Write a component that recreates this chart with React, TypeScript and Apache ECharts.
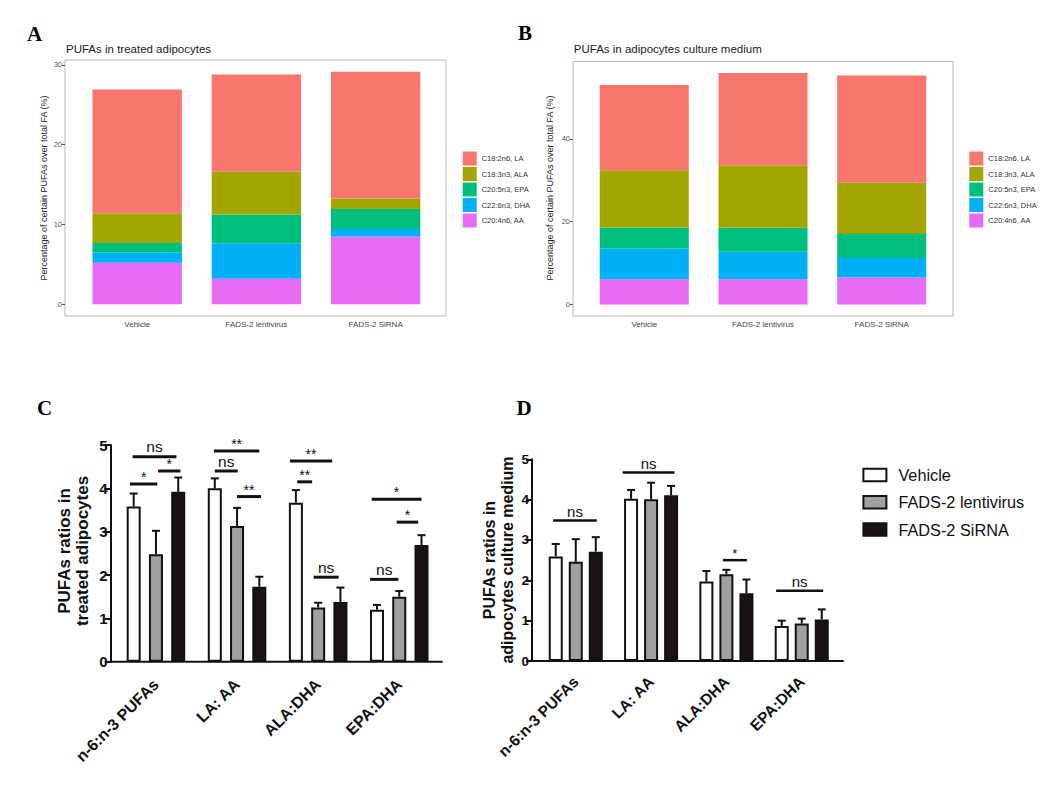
import { useEffect, useRef } from "react";
import * as echarts from "echarts";

// ---------- Panels A & B: stacked PUFA composition (% of total FA) ----------
const groupLabels = ["Vehicle", "FADS-2 lentivirus", "FADS-2 SiRNA"];
const faLegend = ["C18:2n6, LA", "C18:3n3, ALA", "C20:5n3, EPA", "C22:6n3, DHA", "C20:4n6, AA"];
const faPalette = ["#F8766D", "#A3A500", "#00BF7D", "#00B0F6", "#E76BF3"];

const cellLA = [15.5, 12.2, 15.9];
const cellALA = [3.7, 5.35, 1.3];
const cellEPA = [1.2, 3.6, 2.5];
const cellDHA = [1.3, 4.45, 0.95];
const cellAA = [5.2, 3.2, 8.5];

const mediumLA = [20.6, 22.3, 25.9];
const mediumALA = [13.8, 15.1, 12.4];
const mediumEPA = [5.1, 5.8, 5.8];
const mediumDHA = [7.4, 6.6, 4.7];
const mediumAA = [6.1, 6.1, 6.5];

const cellTicks = [0, 10, 20, 30];
const mediumTicks = [0, 20, 40];

// ---------- Panels C & D: PUFA ratios, mean + SEM ----------
const ratioLabels = ["n-6:n-3 PUFAs", "LA: AA", "ALA:DHA", "EPA:DHA"];
const treatments = ["Vehicle", "FADS-2 lentivirus", "FADS-2 SiRNA"];
const treatmentFill = ["#ffffff", "#a0a0a0", "#1c1214"];

const cellRatioVehicle = [3.58, 4.0, 3.67, 1.2];
const cellRatioLenti = [2.48, 3.13, 1.25, 1.5];
const cellRatioSiRNA = [3.92, 1.73, 1.38, 2.69];
const cellSemVehicle = [0.3, 0.23, 0.29, 0.11];
const cellSemLenti = [0.54, 0.42, 0.11, 0.13];
const cellSemSiRNA = [0.33, 0.23, 0.33, 0.23];

const mediumRatioVehicle = [2.59, 4.02, 1.97, 0.87];
const mediumRatioLenti = [2.46, 4.01, 2.15, 0.93];
const mediumRatioSiRNA = [2.71, 4.11, 1.68, 1.03];
const mediumSemVehicle = [0.31, 0.22, 0.26, 0.13];
const mediumSemLenti = [0.56, 0.41, 0.11, 0.12];
const mediumSemSiRNA = [0.36, 0.23, 0.34, 0.25];

const ratioTicks = [0, 1, 2, 3, 4, 5];

// significance brackets: [ratio index, start slot, end slot, height, label]
// slots: -1 = Vehicle, 0 = lentivirus, 1 = SiRNA
const cellSignif: [number, number, number, number, string][] = [
  [0, -1.05, 0.92, 4.73, "ns"],
  [0, -1.17, 0.06, 4.1, "*"],
  [0, 0.1, 1.1, 4.4, "*"],
  [1, -1.04, 1.0, 4.86, "**"],
  [1, -1.0, 0.03, 4.4, "ns"],
  [1, 0.0, 1.08, 3.81, "**"],
  [2, -1.27, 0.63, 4.63, "**"],
  [2, -0.94, -0.27, 4.15, "**"],
  [2, -0.2, 0.92, 1.95, "ns"],
  [3, -1.24, 1.0, 3.75, "*"],
  [3, -0.12, 0.85, 3.22, "*"],
  [3, -1.31, -0.04, 1.9, "ns"],
];
const mediumSignif: [number, number, number, number, string][] = [
  [0, -1.13, 1.05, 3.48, "ns"],
  [1, -1.42, 1.17, 4.67, "ns"],
  [2, -0.18, 1.02, 2.5, "*"],
  [3, -1.28, 1.07, 1.74, "ns"],
];

const SANS = '"Liberation Sans", Arial, sans-serif';
const SERIF = '"Liberation Serif", "Times New Roman", serif';

// plot areas
const GA = { left: 77.6, top: 60, width: 357.6, height: 256 };
const FRAME_A = { x: 65, y: 60, width: 381, height: 256 };
const GB = { left: 584.9, top: 61.5, width: 356.2, height: 254.5 };
const FRAME_B = { x: 573, y: 61.5, width: 380, height: 254.5 };
const GC = { left: 115.4, top: 445, width: 324.4, height: 216.7 };
const AXIS_C_X = 110.7;
const AXIS_C_END = 442.7;
const GD = { left: 538.1, top: 459.3, width: 301.3, height: 201.7 };
const AXIS_D_X = 532;
const AXIS_D_END = 843.7;

const BAR_C = 14;
const GAP_C = 0.59;
const BAR_D = 14;
const GAP_D = 0.43;

function stackSeries(layers: number[][], stackId: string, idx: number) {
  const out: any[] = [];
  for (let k = layers.length - 1; k >= 0; k--) {
    out.push({
      type: "bar",
      name: faLegend[k],
      stack: stackId,
      xAxisIndex: idx,
      yAxisIndex: idx,
      data: layers[k],
      barWidth: "75%",
      itemStyle: { color: faPalette[k] },
      emphasis: { disabled: true },
    });
  }
  return out;
}

function paddedRange(layers: number[][]) {
  const totals = layers[0].map((_, i) => layers.reduce((s, l) => s + l[i], 0));
  const top = Math.max(...totals);
  return { min: -0.05 * top, max: 1.05 * top };
}

function ratioBars(means: number[][], idx: number, barW: number, gap: number) {
  return means.map((m, t) => ({
    type: "bar",
    name: treatments[t],
    xAxisIndex: idx,
    yAxisIndex: idx,
    data: m,
    barWidth: barW,
    barGap: `${gap * 100}%`,
    itemStyle: { color: treatmentFill[t], borderColor: "#111", borderWidth: 2 },
    emphasis: { disabled: true },
  }));
}

function errorSeries(means: number[][], sems: number[][], idx: number, step: number, cap: number, lw: number) {
  const data: number[][] = [];
  means.forEach((m, t) => m.forEach((v, i) => data.push([i, t - 1, v, sems[t][i]])));
  return {
    type: "custom",
    xAxisIndex: idx,
    yAxisIndex: idx,
    encode: { x: 0, y: 2 },
    z: 3,
    silent: true,
    data,
    renderItem: (_p: any, api: any) => {
      const base = api.coord([api.value(0), api.value(2)]);
      const top = api.coord([api.value(0), api.value(2) + api.value(3)]);
      const x = base[0] + api.value(1) * step;
      const style = { stroke: "#111", lineWidth: lw };
      return {
        type: "group",
        children: [
          { type: "line", shape: { x1: x, y1: base[1], x2: x, y2: top[1] }, style },
          { type: "line", shape: { x1: x - cap, y1: top[1], x2: x + cap, y2: top[1] }, style },
        ],
      };
    },
  };
}

function signifSeries(
  rows: [number, number, number, number, string][],
  idx: number,
  step: number,
  lw: number,
  nsSize: number,
  starSize: number
) {
  return {
    type: "custom",
    xAxisIndex: idx,
    yAxisIndex: idx,
    encode: { x: 0, y: 3 },
    z: 4,
    silent: true,
    data: rows.map((r) => [r[0], r[1], r[2], r[3]]),
    renderItem: (params: any, api: any) => {
      const label = rows[params.dataIndex][4];
      const c = api.coord([api.value(0), api.value(3)]);
      const x1 = c[0] + api.value(1) * step;
      const x2 = c[0] + api.value(2) * step;
      const isNs = label === "ns";
      return {
        type: "group",
        children: [
          { type: "line", shape: { x1, y1: c[1], x2, y2: c[1] }, style: { stroke: "#111", lineWidth: lw } },
          {
            type: "text",
            x: (x1 + x2) / 2,
            y: c[1] - (isNs ? 2 : 0),
            style: {
              text: label,
              fill: "#111",
              fontSize: isNs ? nsSize : starSize,
              fontFamily: SANS,
              align: "center",
              verticalAlign: "bottom",
              textAlign: "center",
              textVerticalAlign: "bottom",
            },
          },
        ],
      };
    },
  };
}

function txt(text: string, x: number, y: number, opts: any = {}) {
  const { rotation, ...style } = opts;
  return {
    type: "text",
    x,
    y,
    rotation: rotation || 0,
    silent: true,
    style: {
      text,
      fill: "#111",
      fontFamily: SANS,
      align: "center",
      verticalAlign: "middle",
      textAlign: "center",
      textVerticalAlign: "middle",
      ...style,
    },
  };
}

function buildOption() {
  const cellLayers = [cellLA, cellALA, cellEPA, cellDHA, cellAA];
  const mediumLayers = [mediumLA, mediumALA, mediumEPA, mediumDHA, mediumAA];
  const rA = paddedRange(cellLayers);
  const rB = paddedRange(mediumLayers);

  const cellMeans = [cellRatioVehicle, cellRatioLenti, cellRatioSiRNA];
  const cellSems = [cellSemVehicle, cellSemLenti, cellSemSiRNA];
  const medMeans = [mediumRatioVehicle, mediumRatioLenti, mediumRatioSiRNA];
  const medSems = [mediumSemVehicle, mediumSemLenti, mediumSemSiRNA];
  const stepC = BAR_C * (1 + GAP_C);
  const stepD = BAR_D * (1 + GAP_D);

  const ggX = (idx: number) => ({
    type: "category",
    gridIndex: idx,
    data: groupLabels,
    axisLine: { show: false },
    axisTick: { alignWithLabel: true, length: 3, lineStyle: { color: "#555" } },
    axisLabel: { fontSize: 8, color: "#444", fontFamily: SANS, margin: 4 },
  });
  const ggY = (idx: number, r: { min: number; max: number }, ticks: number[], offset: number) => ({
    type: "value",
    gridIndex: idx,
    min: r.min,
    max: r.max,
    offset,
    axisLine: { show: false },
    splitLine: { show: false },
    axisTick: { show: true, length: 3, lineStyle: { color: "#555" }, customValues: ticks },
    axisLabel: { fontSize: 7.5, color: "#555", fontFamily: SANS, margin: 3, customValues: ticks },
  });
  const gpX = (idx: number, size: number, margin: number) => ({
    type: "category",
    gridIndex: idx,
    data: ratioLabels,
    axisLine: { show: false },
    axisTick: { alignWithLabel: true, length: 7, lineStyle: { color: "#111", width: 2 } },
    axisLabel: {
      rotate: 45,
      interval: 0,
      hideOverlap: false,
      fontSize: size,
      fontWeight: "bold",
      fontFamily: SANS,
      color: "#111",
      margin,
    },
  });
  const gpY = (idx: number, offset: number, size: number) => ({
    type: "value",
    gridIndex: idx,
    min: 0,
    max: 5,
    interval: 1,
    offset,
    axisLine: { show: true, lineStyle: { color: "#111", width: 2 } },
    splitLine: { show: false },
    axisTick: { show: true, length: 6, lineStyle: { color: "#111", width: 2 } },
    axisLabel: { fontSize: size, fontWeight: "bold", color: "#111", fontFamily: SANS, margin: 3, customValues: ratioTicks },
  });

  const cBottom = GC.top + GC.height;
  const dBottom = GD.top + GD.height;

  return {
    animation: false,
    backgroundColor: "#ffffff",
    grid: [
      { ...GA, containLabel: false },
      { ...GB, containLabel: false },
      { ...GC, containLabel: false },
      { ...GD, containLabel: false },
    ],
    xAxis: [ggX(0), ggX(1), gpX(2, 16, 20), gpX(3, 15.5, 18)],
    yAxis: [
      ggY(0, rA, cellTicks, GA.left - FRAME_A.x),
      ggY(1, rB, mediumTicks, GB.left - FRAME_B.x),
      gpY(2, GC.left - AXIS_C_X, 15),
      gpY(3, GD.left - AXIS_D_X, 13.5),
    ],
    legend: [
      {
        orient: "vertical",
        left: 462.7,
        top: 151.5,
        padding: 0,
        itemWidth: 14,
        itemHeight: 14,
        itemGap: 1.5,
        icon: "rect",
        data: faLegend,
        selectedMode: false,
        textStyle: { fontSize: 7.5, color: "#333", fontFamily: SANS },
      },
      {
        orient: "vertical",
        left: 969.3,
        top: 151.5,
        padding: 0,
        itemWidth: 14,
        itemHeight: 14,
        itemGap: 1.5,
        icon: "rect",
        data: faLegend,
        selectedMode: false,
        textStyle: { fontSize: 7.5, color: "#333", fontFamily: SANS },
      },
      {
        orient: "vertical",
        left: 862.4,
        top: 467,
        padding: 0,
        itemWidth: 23,
        itemHeight: 12.5,
        itemGap: 11.3,
        icon: "rect",
        data: treatments,
        selectedMode: false,
        textStyle: { fontSize: 16.3, color: "#111", fontFamily: SANS, padding: [0, 0, 0, 7] },
      },
    ],
    graphic: [
      // panel letters
      txt("A", 34.7, 33.5, { fontFamily: SERIF, fontWeight: "bold", fontSize: 21, fill: "#000" }),
      txt("B", 525, 32.5, { fontFamily: SERIF, fontWeight: "bold", fontSize: 21, fill: "#000" }),
      txt("C", 44.5, 408, { fontFamily: SERIF, fontWeight: "bold", fontSize: 21, fill: "#000" }),
      txt("D", 524, 408, { fontFamily: SERIF, fontWeight: "bold", fontSize: 21, fill: "#000" }),
      // panel titles
      txt("PUFAs in treated adipocytes", 66, 49, { fontSize: 11.5, align: "left", textAlign: "left", fill: "#222" }),
      txt("PUFAs in adipocytes culture medium", 573.8, 49, { fontSize: 11.5, align: "left", textAlign: "left", fill: "#222" }),
      // y axis titles
      txt("Percentage of certain PUFAs over total FA (%)", 43.5, 188, { fontSize: 9, fill: "#222", rotation: Math.PI / 2 }),
      txt("Percentage of certain PUFAs over total FA (%)", 549.6, 188, { fontSize: 9, fill: "#222", rotation: Math.PI / 2 }),
      txt("PUFAs ratios in\ntreated adipocytes", 73, 551, {
        fontSize: 17,
        fontWeight: "bold",
        lineHeight: 18,
        rotation: Math.PI / 2,
      }),
      txt("PUFAs ratios in\nadipocytes culture medium", 498, 560, {
        fontSize: 16,
        fontWeight: "bold",
        lineHeight: 18,
        rotation: Math.PI / 2,
      }),
      // ggplot panel borders
      {
        type: "rect",
        silent: true,
        shape: { ...FRAME_A },
        style: { fill: "none", stroke: "#b8b8b8", lineWidth: 1 },
      },
      {
        type: "rect",
        silent: true,
        shape: { ...FRAME_B },
        style: { fill: "none", stroke: "#b8b8b8", lineWidth: 1 },
      },
      // x axis baselines of the ratio panels
      {
        type: "line",
        silent: true,
        shape: { x1: AXIS_C_X - 1, y1: cBottom, x2: AXIS_C_END, y2: cBottom },
        style: { stroke: "#111", lineWidth: 2 },
      },
      {
        type: "line",
        silent: true,
        shape: { x1: AXIS_D_X - 1, y1: dBottom, x2: AXIS_D_END, y2: dBottom },
        style: { stroke: "#111", lineWidth: 2 },
      },
    ],
    series: [
      ...stackSeries(cellLayers, "cell", 0),
      ...stackSeries(mediumLayers, "medium", 1),
      ...ratioBars(cellMeans, 2, BAR_C, GAP_C),
      errorSeries(cellMeans, cellSems, 2, stepC, 4, 2),
      signifSeries(cellSignif, 2, stepC, 3, 15.5, 14),
      ...ratioBars(medMeans, 3, BAR_D, GAP_D),
      errorSeries(medMeans, medSems, 3, stepD, 4, 2),
      signifSeries(mediumSignif, 3, stepD, 2.5, 15, 13),
    ],
  };
}

export default function App() {
  const ref = useRef<HTMLDivElement>(null);
  useEffect(() => {
    if (!ref.current) return;
    const chart = echarts.init(ref.current, null, { renderer: "svg" });
    chart.setOption(buildOption() as any);
    return () => chart.dispose();
  }, []);
  return (
    <div
      ref={ref}
      style={{ position: "fixed", left: 0, top: 0, width: 1056, height: 787, background: "#fff" }}
    />
  );
}
